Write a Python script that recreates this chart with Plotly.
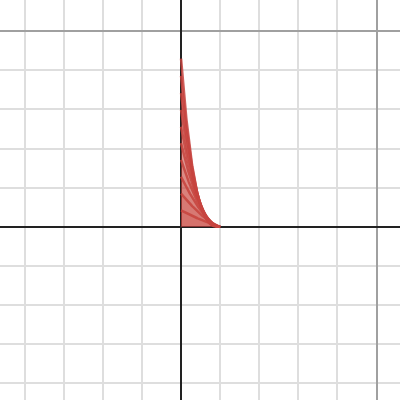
import numpy as np
import plotly.graph_objects as go

# curve family y = h * (1 - x)^p on 0 <= x <= 1
start_heights = [0.42, 0.85, 1.28, 1.71, 2.14, 2.56, 2.99, 3.42, 3.86, 4.30]
exponents = [1.2, 1.4, 1.6, 1.8, 2.0, 2.2, 2.4, 2.6, 2.8, 3.0]

x_range = [-4.63, 5.60]
y_range = [-4.43, 5.80]

fig = go.Figure()

xs = np.linspace(0, 1, 120)
for h, p in zip(start_heights, exponents):
    fig.add_trace(go.Scatter(
        x=xs, y=h * (1 - xs) ** p,
        mode="lines",
        line=dict(color="rgba(199,68,64,0.85)", width=2.5),
        fill="tozeroy",
        fillcolor="rgba(199,68,64,0.13)",
        hoverinfo="skip",
        showlegend=False,
    ))

axis_style = dict(
    dtick=5,
    showgrid=True,
    gridcolor="#a0a0a0",
    gridwidth=1.5,
    minor=dict(dtick=1, showgrid=True, gridcolor="#dedede", gridwidth=1.5),
    zeroline=True,
    zerolinecolor="#222222",
    zerolinewidth=2,
    showticklabels=False,
    ticks="",
    showline=False,
    fixedrange=True,
)

fig.update_layout(
    width=400,
    height=400,
    margin=dict(l=0, r=0, t=0, b=0),
    paper_bgcolor="white",
    plot_bgcolor="white",
    xaxis=dict(range=x_range, **axis_style),
    yaxis=dict(range=y_range, **axis_style),
)

# drop the page's default body margin so the plot sits flush in the window
fig.write_html(
    "out.html",
    config={"displayModeBar": False},
    post_script="document.body.style.margin='0';",
)
